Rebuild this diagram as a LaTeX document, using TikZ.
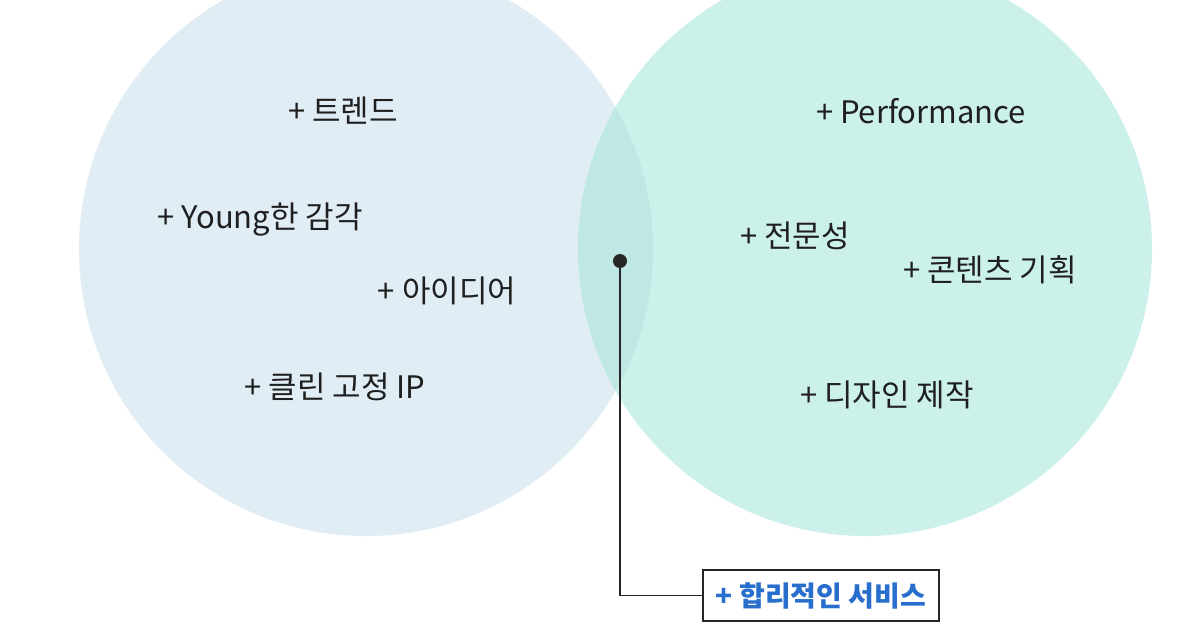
\documentclass[tikz,border=0pt]{standalone}
\usepackage{fontspec}
\setmainfont{Noto Sans CJK KR}
\begin{document}
\begin{tikzpicture}[x=1pt,y=-1pt,
  lbl/.style={font=\fontsize{31}{34}\selectfont, text=black!88, inner sep=0},
  ]
\useasboundingbox (0,0) rectangle (1200,630);
\fill[white] (0,0) rectangle (1200,630);
\fill[fill={rgb,255:red,224;green,237;blue,244}] (366,249) circle (287);
\fill[fill={rgb,255:red,170;green,230;blue,220}, fill opacity=0.6] (865,249) circle (287);
\node[lbl] (a) at (343,111) {+ 트렌드};
\node[lbl] (b) at (260,220) {+ Young한 감각};
\node[lbl] (c) at (447,291) {+ 아이디어};
\node[lbl] (d) at (335,387) {+ 클린 고정 IP};
\node[lbl] (e) at (921,111) {+ Performance};
\node[lbl] (f) at (795,236) {+ 전문성};
\node[lbl] (g) at (990,270) {+ 콘텐츠 기획};
\node[lbl] (h) at (887,395) {+ 디자인 제작};
\node[draw=black!85, line width=1.8pt, fill=white, minimum width=236, minimum height=51, inner sep=0,
  font=\fontsize{28}{30}\selectfont\bfseries, text={rgb,255:red,40;green,110;blue,205}] (box) at (821,595.5) {+ 합리적인 서비스};
\fill[black!85] (620,261) circle (7);
\coordinate (dot) at (620,261);
\draw[black!85, line width=1.8pt] (dot) |- (box.west);
\end{tikzpicture}
\end{document}
